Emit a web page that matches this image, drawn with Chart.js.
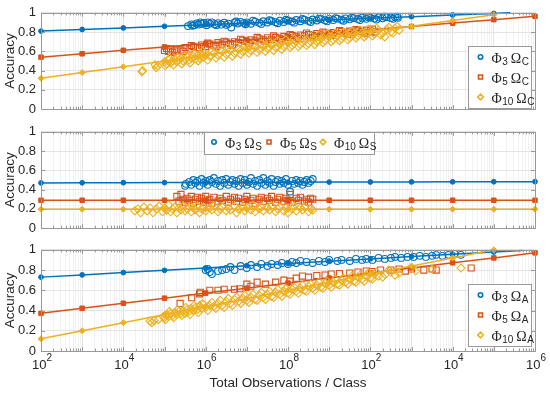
<!DOCTYPE html>
<html>
<head>
<meta charset="utf-8">
<script src="https://cdn.jsdelivr.net/npm/chart.js@4.4.1/dist/chart.umd.min.js"></script>
<style>
  html, body { margin: 0; padding: 0; background: #fff; }
  #wrap { position: relative; width: 550px; height: 393px; overflow: hidden; }
  #wrap canvas { position: absolute; left: 0; }
</style>
</head>
<body>
<div id="wrap">
  <canvas id="panelC" width="550" height="122" style="top:0px"></canvas>
  <canvas id="panelS" width="550" height="122" style="top:119px"></canvas>
  <canvas id="panelA" width="550" height="156" style="top:237px"></canvas>
</div>
<script>
// x values are stored as log10(observations / class), y as accuracy
const xLabelValues = [1e2, 1e4, 1e6, 1e8, 1e10, 1e12, 1e14];
const xLabelExps = ['2', '4', '6', '8', '2', '4', '6'];
const yTicks = [0, 0.2, 0.4, 0.6, 0.8, 1];

// ---- panel C ----
const fitC3 = [[2,0.810],[3,0.827],[4,0.843],[5,0.860],[6,0.877],[7,0.893],[8,0.910],[9,0.927],[10,0.943],[11,0.960],[12,0.977],[13,0.993],[13.4,1.0]];
const fitC5 = [[2,0.540],[3,0.575],[4,0.611],[5,0.646],[6,0.681],[7,0.717],[8,0.752],[9,0.787],[10,0.823],[11,0.858],[12,0.893],[13,0.929],[14,0.964]];
const fitC10 = [[2,0.320],[3,0.380],[4,0.440],[5,0.500],[6,0.560],[7,0.620],[8,0.680],[9,0.740],[10,0.800],[11,0.860],[12,0.920],[13,0.980]];
const obsC3 = [[5.57,0.862],[5.65,0.88],[5.72,0.872],[5.78,0.89],[5.83,0.878],[5.9,0.885],[5.95,0.895],[6.02,0.872],[6.1,0.888],[6.15,0.9],[6.22,0.882],[6.3,0.893],[6.38,0.878],[6.45,0.898],[6.55,0.887],[6.62,0.848],[6.7,0.9],[6.78,0.889],[6.85,0.905],[6.93,0.893],[7.0,0.9],[7.1,0.887],[7.2,0.908],[7.3,0.896],[7.4,0.912],[7.5,0.9],[7.6,0.915],[7.7,0.903],[7.8,0.918],[7.9,0.905],[8.0,0.92],[8.1,0.91],[8.2,0.925],[8.3,0.913],[8.4,0.928],[8.5,0.916],[8.6,0.93],[8.7,0.92],[8.8,0.935],[8.9,0.922],[9.0,0.937],[9.1,0.925],[9.2,0.94],[9.3,0.928],[9.4,0.942],[9.5,0.932],[9.6,0.945],[9.7,0.935],[9.8,0.948],[9.9,0.938],[10.0,0.95],[10.1,0.94],[10.2,0.953],[10.3,0.943],[10.4,0.955],[10.5,0.946],[10.6,0.957],[10.67,0.948],
  [5.68,0.865],[5.87,0.9],[6.05,0.9],[6.26,0.872],[6.5,0.875],[6.74,0.91],[6.97,0.882],[7.15,0.918],[7.35,0.885],[7.55,0.922],[7.75,0.892],[7.95,0.928],[8.15,0.898],[8.35,0.935],[8.55,0.905],[8.75,0.94],[8.95,0.912],[9.15,0.945],[9.35,0.918],[9.55,0.95],[9.75,0.925],[9.95,0.955],[10.15,0.93],[10.35,0.96],[10.55,0.937],[10.65,0.96]];
const obsC5 = [[5.0,0.61],[5.1,0.6],[5.15,0.625],[5.25,0.605],[5.3,0.62],[5.4,0.615],[5.5,0.64],[5.6,0.625],[5.7,0.65],[5.8,0.64],[5.9,0.665],[6.0,0.65],[6.1,0.675],[6.2,0.665],[6.3,0.69],[6.4,0.675],[6.5,0.695],[6.6,0.68],[6.7,0.7],[6.8,0.69],[6.9,0.715],[7.0,0.7],[7.1,0.72],[7.2,0.71],[7.3,0.73],[7.4,0.72],[7.5,0.74],[7.6,0.725],[7.7,0.745],[7.8,0.735],[7.9,0.755],[8.0,0.745],[8.1,0.765],[8.2,0.75],[8.3,0.77],[8.4,0.76],[8.5,0.775],[8.6,0.765],[8.7,0.785],[8.8,0.77],[8.9,0.79],[9.0,0.78],[9.1,0.795],[9.2,0.785],[9.3,0.805],[9.4,0.79],[9.5,0.81],[9.6,0.8],[9.7,0.815],[9.8,0.805],[9.9,0.82],[10.0,0.81],[10.1,0.8],
  [5.05,0.63],[5.2,0.59],[5.45,0.6],[5.65,0.66],[5.85,0.625],[6.05,0.685],[6.25,0.65],[6.45,0.705],[6.65,0.665],[6.85,0.725],[7.05,0.685],[7.25,0.745],[7.45,0.705],[7.65,0.76],[7.85,0.72],[8.05,0.775],[8.25,0.735],[8.45,0.79],[8.65,0.75],[8.85,0.8],[9.05,0.765],[9.25,0.815],[9.45,0.775],[9.65,0.825],[9.85,0.79],[10.05,0.83]];
const obsC10 = [[4.45,0.39],[4.47,0.40],[4.77,0.46],[4.8,0.43],[4.84,0.45],[5.0,0.49],[5.05,0.47],[5.1,0.51],[5.15,0.48],[5.2,0.5],[5.25,0.52],[5.3,0.49],[5.35,0.51],[5.4,0.53],[5.45,0.5],[5.5,0.52],[5.55,0.54],[5.6,0.51],[5.65,0.53],[5.7,0.55],[5.75,0.52],[5.8,0.56],[5.85,0.53],[5.9,0.57],[5.95,0.54],[6.0,0.56],[6.1,0.55],[6.2,0.58],[6.3,0.56],[6.4,0.6],[6.5,0.57],[6.6,0.61],[6.7,0.58],[6.8,0.62],[6.9,0.6],[7.0,0.63],[7.1,0.61],[7.2,0.64],[7.3,0.62],[7.4,0.65],[7.5,0.63],[7.6,0.66],[7.7,0.64],[7.8,0.67],[7.9,0.65],[8.0,0.69],[8.1,0.66],[8.2,0.7],[8.3,0.67],[8.4,0.71],[8.5,0.68],[8.6,0.72],[8.7,0.7],[8.8,0.73],[8.9,0.71],[9.0,0.75],[9.1,0.72],[9.2,0.76],[9.3,0.73],[9.4,0.77],[9.5,0.74],[9.6,0.78],[9.7,0.76],[9.8,0.79],[9.9,0.77],[10.0,0.81],[10.1,0.78],[10.2,0.82],[10.3,0.79],[10.35,0.75],[10.4,0.83],[10.5,0.8],[10.6,0.84],[10.7,0.82],
  [5.02,0.45],[5.12,0.53],[5.22,0.46],[5.32,0.54],[5.42,0.47],[5.52,0.56],[5.62,0.48],[5.72,0.58],[5.82,0.5],[5.92,0.6],[6.05,0.51],[6.15,0.6],[6.25,0.53],[6.35,0.62],[6.45,0.54],[6.55,0.64],[6.65,0.55],[6.75,0.65],[6.85,0.57],[6.95,0.66],[7.05,0.58],[7.15,0.67],[7.25,0.59],[7.35,0.68],[7.45,0.6],[7.55,0.7],[7.65,0.61],[7.75,0.71],[7.85,0.62],[7.95,0.72],[8.05,0.64],[8.15,0.73],[8.25,0.65],[8.35,0.74],[8.45,0.66],[8.55,0.76],[8.65,0.67],[8.75,0.77],[8.85,0.69],[8.95,0.78],[9.05,0.7],[9.15,0.79],[9.25,0.71],[9.35,0.8],[9.45,0.72],[9.55,0.81],[9.65,0.74],[9.75,0.82],[9.85,0.75],[9.95,0.83],[10.05,0.76],[10.15,0.84],[10.25,0.77],[10.45,0.85],[10.55,0.79],[10.65,0.86]];

// ---- panel S ----
const fitS3 = [[2,0.470],[3,0.471],[4,0.472],[5,0.473],[6,0.474],[7,0.475],[8,0.477],[9,0.478],[10,0.479],[11,0.480],[12,0.481],[13,0.482],[14,0.483]];
const fitS5 = [[2,0.290],[3,0.290],[4,0.290],[5,0.290],[6,0.290],[7,0.290],[8,0.290],[9,0.290],[10,0.290],[11,0.290],[12,0.290],[13,0.290],[14,0.290]];
const fitS10 = [[2,0.197],[3,0.197],[4,0.197],[5,0.197],[6,0.197],[7,0.197],[8,0.197],[9,0.197],[10,0.197],[11,0.197],[12,0.197],[13,0.197],[14,0.197]];
const obsS3 = [[5.5,0.44],[5.52,0.46],[5.6,0.48],[5.65,0.45],[5.7,0.5],[5.75,0.47],[5.8,0.49],[5.85,0.44],[5.9,0.51],[5.95,0.47],[6.0,0.49],[6.05,0.45],[6.1,0.5],[6.15,0.48],[6.2,0.52],[6.25,0.46],[6.3,0.49],[6.35,0.44],[6.4,0.5],[6.45,0.47],[6.5,0.51],[6.55,0.45],[6.6,0.48],[6.65,0.5],[6.7,0.46],[6.75,0.49],[6.8,0.44],[6.85,0.51],[6.9,0.47],[6.95,0.5],[7.0,0.45],[7.05,0.48],[7.1,0.52],[7.15,0.46],[7.2,0.49],[7.25,0.44],[7.3,0.5],[7.35,0.47],[7.4,0.52],[7.45,0.45],[7.5,0.49],[7.55,0.47],[7.6,0.51],[7.65,0.44],[7.7,0.48],[7.75,0.5],[7.8,0.46],[7.85,0.49],[7.9,0.47],[7.95,0.51],[8.0,0.45],[8.05,0.38],[8.1,0.49],[8.15,0.46],[8.2,0.5],[8.25,0.47],[8.3,0.49],[8.35,0.45],[8.4,0.48],[8.45,0.5],[8.5,0.47],[8.55,0.49],[8.6,0.51]];
const obsS5 = [[5.3,0.33],[5.35,0.28],[5.4,0.35],[5.45,0.3],[5.5,0.27],[5.55,0.31],[5.6,0.29],[5.65,0.33],[5.7,0.26],[5.75,0.3],[5.8,0.32],[5.85,0.28],[5.9,0.31],[5.95,0.27],[6.0,0.33],[6.05,0.29],[6.1,0.3],[6.15,0.26],[6.2,0.32],[6.3,0.28],[6.35,0.31],[6.4,0.29],[6.5,0.33],[6.55,0.27],[6.6,0.3],[6.7,0.32],[6.75,0.28],[6.8,0.31],[6.9,0.27],[6.95,0.3],[7.0,0.33],[7.1,0.29],[7.15,0.31],[7.2,0.26],[7.3,0.3],[7.35,0.32],[7.4,0.28],[7.5,0.31],[7.55,0.29],[7.6,0.33],[7.7,0.27],[7.75,0.3],[7.8,0.32],[7.9,0.28],[7.95,0.31],[8.0,0.29],[8.05,0.35],[8.1,0.27],[8.2,0.31],[8.25,0.29],[8.3,0.32],[8.4,0.28],[8.45,0.3],[8.5,0.27],[8.55,0.31],[8.6,0.3]];
const obsS10 = [[4.28,0.18],[4.35,0.2],[4.42,0.16],[4.5,0.22],[4.58,0.18],[4.65,0.21],[4.72,0.16],[4.8,0.2],[4.87,0.23],[4.95,0.17],[5.0,0.21],[5.05,0.19],[5.1,0.24],[5.15,0.17],[5.2,0.2],[5.25,0.22],[5.3,0.16],[5.35,0.21],[5.4,0.19],[5.45,0.23],[5.5,0.18],[5.55,0.2],[5.6,0.22],[5.65,0.17],[5.7,0.21],[5.75,0.19],[5.8,0.23],[5.85,0.16],[5.9,0.2],[5.95,0.22],[6.0,0.18],[6.1,0.21],[6.15,0.19],[6.2,0.23],[6.3,0.17],[6.35,0.2],[6.4,0.22],[6.5,0.18],[6.55,0.21],[6.6,0.19],[6.7,0.23],[6.75,0.16],[6.8,0.2],[6.9,0.22],[6.95,0.18],[7.0,0.21],[7.1,0.19],[7.15,0.24],[7.2,0.17],[7.3,0.2],[7.35,0.22],[7.4,0.18],[7.5,0.21],[7.55,0.19],[7.6,0.23],[7.7,0.17],[7.75,0.2],[7.8,0.22],[7.9,0.18],[7.95,0.21],[8.0,0.16],[8.1,0.2],[8.15,0.23],[8.2,0.18],[8.3,0.21],[8.35,0.19],[8.4,0.22],[8.5,0.17],[8.55,0.2],[8.6,0.19]];

// ---- panel A ----
const fitA3 = [[2,0.730],[3,0.752],[4,0.775],[5,0.797],[6,0.820],[7,0.843],[8,0.865],[9,0.888],[10,0.910],[11,0.933],[12,0.955],[13,0.978],[13.7,0.994]];
const fitA5 = [[2,0.372],[3,0.422],[4,0.472],[5,0.522],[6,0.572],[7,0.621],[8,0.671],[9,0.721],[10,0.771],[11,0.821],[12,0.871],[13,0.920],[14,0.970]];
const fitA10 = [[2,0.120],[3,0.200],[4,0.280],[5,0.360],[6,0.440],[7,0.520],[8,0.600],[9,0.680],[10,0.760],[11,0.840],[12,0.920],[13,1.000]];
const obsA3 = [[6.0,0.80],[6.05,0.81],[6.1,0.78],[6.15,0.76],[6.3,0.79],[6.4,0.80],[6.5,0.81],[6.6,0.83],[6.7,0.80],[6.85,0.84],[7.0,0.82],[7.1,0.85],[7.25,0.83],[7.35,0.86],[7.5,0.84],[7.6,0.86],[7.75,0.85],[7.85,0.87],[8.0,0.86],[8.1,0.88],[8.2,0.87],[8.3,0.89],[8.45,0.88],[8.6,0.87],[8.75,0.89],[8.9,0.88],[9.0,0.90],[9.2,0.89],[9.3,0.90],[9.5,0.89],[9.65,0.91],[9.8,0.90],[9.9,0.91],[10.05,0.90],[10.2,0.92],[10.35,0.91],[10.5,0.92],[10.6,0.93],[10.75,0.92],[10.9,0.93],[11.05,0.93],[11.2,0.94],[11.35,0.93],[11.5,0.94],[11.6,0.95],[11.75,0.94],[11.9,0.95],[12.05,0.96],[12.2,0.95]];
const obsA5 = [[5.38,0.47],[5.66,0.527],[5.85,0.565],[5.87,0.58],[6.1,0.60],[6.3,0.60],[6.45,0.61],[6.7,0.61],[6.83,0.615],[7.0,0.66],[7.1,0.64],[7.25,0.68],[7.45,0.66],[7.7,0.68],[7.9,0.70],[8.05,0.69],[8.2,0.72],[8.35,0.74],[8.5,0.73],[8.7,0.745],[8.9,0.75],[9.05,0.76],[9.25,0.765],[9.5,0.77],[9.7,0.78],[9.9,0.79],[10.05,0.785],[10.25,0.80],[10.5,0.80],[10.7,0.81],[10.85,0.79],[11.0,0.81],[11.3,0.80],[11.5,0.81],[11.6,0.80],[12.45,0.82]];
const obsA10 = [[4.65,0.295],[4.69,0.28],[4.75,0.30],[4.85,0.31],[4.97,0.34],[5.0,0.33],[5.05,0.36],[5.1,0.34],[5.15,0.37],[5.2,0.35],[5.25,0.38],[5.3,0.36],[5.35,0.39],[5.4,0.37],[5.45,0.40],[5.5,0.37],[5.55,0.41],[5.6,0.39],[5.65,0.42],[5.7,0.40],[5.75,0.43],[5.8,0.41],[5.85,0.45],[5.9,0.42],[5.95,0.46],[6.0,0.43],[6.1,0.45],[6.2,0.44],[6.3,0.47],[6.4,0.45],[6.5,0.49],[6.6,0.47],[6.7,0.51],[6.8,0.49],[6.9,0.52],[7.0,0.50],[7.1,0.53],[7.2,0.51],[7.3,0.55],[7.4,0.53],[7.5,0.56],[7.6,0.54],[7.7,0.58],[7.8,0.56],[7.9,0.59],[8.0,0.57],[8.1,0.61],[8.2,0.59],[8.3,0.62],[8.4,0.60],[8.5,0.64],[8.6,0.62],[8.7,0.65],[8.8,0.63],[8.9,0.67],[9.0,0.65],[9.1,0.68],[9.2,0.66],[9.3,0.70],[9.4,0.68],[9.5,0.71],[9.6,0.69],[9.7,0.73],[9.8,0.71],[9.9,0.74],[10.0,0.72],[10.1,0.76],[10.2,0.74],[10.36,0.755],[10.5,0.78],[10.7,0.77],[11.1,0.79],[11.5,0.81],[12.2,0.82],
  [5.02,0.31],[5.12,0.39],[5.22,0.33],[5.32,0.41],[5.42,0.35],[5.52,0.43],[5.62,0.36],[5.72,0.45],[5.82,0.38],[5.92,0.47],[6.05,0.40],[6.15,0.48],[6.25,0.42],[6.35,0.5],[6.45,0.43],[6.55,0.52],[6.65,0.45],[6.75,0.53],[6.85,0.47],[6.95,0.55],[7.05,0.48],[7.15,0.56],[7.25,0.5],[7.35,0.58],[7.45,0.51],[7.55,0.59],[7.65,0.53],[7.75,0.61],[7.85,0.54],[7.95,0.62],[8.05,0.56],[8.15,0.63],[8.25,0.57],[8.35,0.65],[8.45,0.59],[8.55,0.66],[8.65,0.6],[8.75,0.68],[8.85,0.62],[8.95,0.69],[9.05,0.63],[9.15,0.71],[9.25,0.65],[9.35,0.72],[9.45,0.66],[9.55,0.74],[9.65,0.68],[9.75,0.75],[9.85,0.69],[9.95,0.77],[10.05,0.71],[10.15,0.78],[10.3,0.73],[10.45,0.8],[10.6,0.75]];

const BLUE = '#0072BD', RED = '#D95319', YELLOW = '#EDB120';
const FRAME = '#999999', TXT = '#262626';

const toPts = pairs => pairs.map(p => ({ x: Math.pow(10, p[0]), y: p[1] }));

function fitSet(pairs, color, style, r) {
  return {
    data: toPts(pairs), showLine: true, borderColor: color, borderWidth: 1.5,
    pointStyle: style, pointRadius: pairs.map(p => Number.isInteger(p[0]) ? r : 0),
    pointBackgroundColor: color, pointBorderColor: color, pointBorderWidth: 1, clip: 8
  };
}
function obsSet(pairs, color, style, r) {
  return {
    data: toPts(pairs), showLine: false, borderColor: color,
    pointStyle: style, pointRadius: r, pointBorderColor: color,
    pointBackgroundColor: 'rgba(0,0,0,0)', pointBorderWidth: 1.1, clip: 8
  };
}

function logTicks(scale) {
  const t = [];
  for (let d = 2; d < 14; d++) for (let m = 1; m < 10; m++) t.push({ value: m * Math.pow(10, d), major: m === 1 });
  t.push({ value: 1e14, major: true });
  scale.ticks = t;
}

function drawMarker(ctx, style, color, x, y) {
  ctx.save();
  ctx.strokeStyle = color; ctx.fillStyle = 'rgba(0,0,0,0)'; ctx.lineWidth = 1.6;
  Chart.helpers.drawPoint(ctx, { pointStyle: style, radius: style === 'circle' ? 2.2 : 2.8, borderWidth: 1.6, rotation: 0 }, x, y);
  ctx.restore();
}

function drawLabel(ctx, k, set, x, y) {
  ctx.fillStyle = TXT;
  ctx.textBaseline = 'alphabetic'; ctx.textAlign = 'left';
  ctx.font = '14px "Liberation Serif", serif';
  ctx.fillText('Φ', x, y + 5.5); x += ctx.measureText('Φ').width + 0.5;
  ctx.font = '10px "Liberation Sans", Arial, sans-serif';
  ctx.fillText(k, x, y + 8); x += ctx.measureText(k).width + 3;
  ctx.font = '14px "Liberation Serif", serif';
  ctx.fillText('Ω', x, y + 5.5); x += ctx.measureText('Ω').width + 0.5;
  ctx.font = '10px "Liberation Sans", Arial, sans-serif';
  ctx.fillText(set, x, y + 8);
}

const deco = {
  id: 'deco',
  afterDraw(chart, args, o) {
    const ctx = chart.ctx, a = chart.chartArea, xs = chart.scales.x, ys = chart.scales.y;
    ctx.save();
    ctx.strokeStyle = FRAME; ctx.lineWidth = 1;
    ctx.strokeRect(Math.round(a.left) + 0.5, Math.round(a.top) + 0.5, Math.round(a.right - a.left), Math.round(a.bottom - a.top));
    ctx.beginPath();
    xs.ticks.forEach(t => {
      const px = Math.round(xs.getPixelForValue(t.value)) + 0.5;
      const len = t.major ? 4 : 2.5;
      ctx.moveTo(px, a.bottom); ctx.lineTo(px, a.bottom - len);
      ctx.moveTo(px, a.top); ctx.lineTo(px, a.top + len);
    });
    yTicks.forEach(v => {
      const py = Math.round(ys.getPixelForValue(v)) + 0.5;
      ctx.moveTo(a.left, py); ctx.lineTo(a.left + 4, py);
      ctx.moveTo(a.right, py); ctx.lineTo(a.right - 4, py);
    });
    ctx.stroke();

    const L = o.legend;
    ctx.fillStyle = '#fff';
    ctx.fillRect(L.x, L.y, L.w, L.h);
    ctx.strokeStyle = FRAME;
    ctx.strokeRect(L.x + 0.5, L.y + 0.5, L.w, L.h);
    L.items.forEach(it => {
      drawMarker(ctx, it.style, it.color, it.mx, it.my);
      drawLabel(ctx, it.k, L.set, it.mx + 11, it.my);
    });

    if (o.xLabels) {
      ctx.fillStyle = TXT; ctx.textBaseline = 'alphabetic'; ctx.textAlign = 'left';
      xLabelValues.forEach((v, i) => {
        const px = xs.getPixelForValue(v);
        ctx.font = '13px "Liberation Sans", Arial, sans-serif';
        const w1 = ctx.measureText('10').width;
        ctx.font = '10px "Liberation Sans", Arial, sans-serif';
        const w2 = ctx.measureText(xLabelExps[i]).width;
        const x0 = px - (w1 + w2) / 2 + 1;
        ctx.font = '13px "Liberation Sans", Arial, sans-serif';
        ctx.fillText('10', x0, a.bottom + 18);
        ctx.font = '10px "Liberation Sans", Arial, sans-serif';
        ctx.fillText(xLabelExps[i], x0 + w1, a.bottom + 10);
      });
      ctx.font = '13.5px "Liberation Sans", Arial, sans-serif';
      ctx.textAlign = 'center';
      ctx.fillText('Total Observations / Class', (a.left + a.right) / 2, a.bottom + 36);
    }
    ctx.restore();
  }
};

function makePanel(id, sets, pad, legend, xLabels) {
  return new Chart(document.getElementById(id), {
    type: 'scatter',
    data: { datasets: sets },
    options: {
      responsive: false, animation: false, devicePixelRatio: 1, events: [],
      layout: { padding: { top: pad[0], bottom: pad[1], left: 0, right: 15 } },
      plugins: { legend: { display: false }, tooltip: { enabled: false }, deco: { legend: legend, xLabels: xLabels } },
      scales: {
        x: {
          type: 'logarithmic', min: 1e2, max: 1e14,
          afterBuildTicks: logTicks,
          afterFit: s => { s.height = 0; },
          ticks: { display: false },
          border: { display: false },
          grid: { drawTicks: false, color: c => (c.tick && c.tick.major) ? '#e4e4e4' : '#f2f2f2' }
        },
        y: {
          min: 0, max: 1,
          afterFit: s => { s.width = 41; },
          ticks: { stepSize: 0.2, padding: 5, color: TXT, font: { size: 13, family: '"Liberation Sans", Arial, sans-serif' },
                   callback: v => String(Number(v.toFixed(1))) },
          border: { display: false },
          grid: { drawTicks: false, color: '#e4e4e4' },
          title: { display: true, text: 'Accuracy', color: TXT, padding: { top: 2, bottom: 2 },
                   font: { size: 13.5, family: '"Liberation Sans", Arial, sans-serif' } }
        }
      }
    },
    plugins: [deco]
  });
}

function panelSets(f3, f5, f10, o3, o5, o10) {
  return [
    fitSet(f10, YELLOW, 'rectRot', 3), obsSet(o10, YELLOW, 'rectRot', 4),
    fitSet(f5, RED, 'rect', 3.2), obsSet(o5, RED, 'rect', 4.3),
    fitSet(f3, BLUE, 'circle', 2.4), obsSet(o3, BLUE, 'circle', 3.4)
  ];
}

function vertLegend(top, set) {
  return { x: 468, y: top, w: 63, h: 62, set: set, items: [
    { style: 'circle', color: BLUE, k: '3', mx: 480.5, my: top + 11 },
    { style: 'rect', color: RED, k: '5', mx: 480.5, my: top + 31 },
    { style: 'rectRot', color: YELLOW, k: '10', mx: 480.5, my: top + 51 }
  ] };
}

makePanel('panelC', panelSets(fitC3, fitC5, fitC10, obsC3, obsC5, obsC10), [9, 9], vertLegend(46, 'C'), false);
makePanel('panelS', panelSets(fitS3, fitS5, fitS10, obsS3, obsS5, obsS10), [9, 10],
  { x: 204, y: 13, w: 170, h: 22, set: 'S', items: [
    { style: 'circle', color: BLUE, k: '3', mx: 214, my: 23 },
    { style: 'rect', color: RED, k: '5', mx: 269, my: 23 },
    { style: 'rectRot', color: YELLOW, k: '10', mx: 323, my: 23 }
  ] }, false);
makePanel('panelA', panelSets(fitA3, fitA5, fitA10, obsA3, obsA5, obsA10), [9, 42], vertLegend(47, 'A'), true);
</script>
</body>
</html>
